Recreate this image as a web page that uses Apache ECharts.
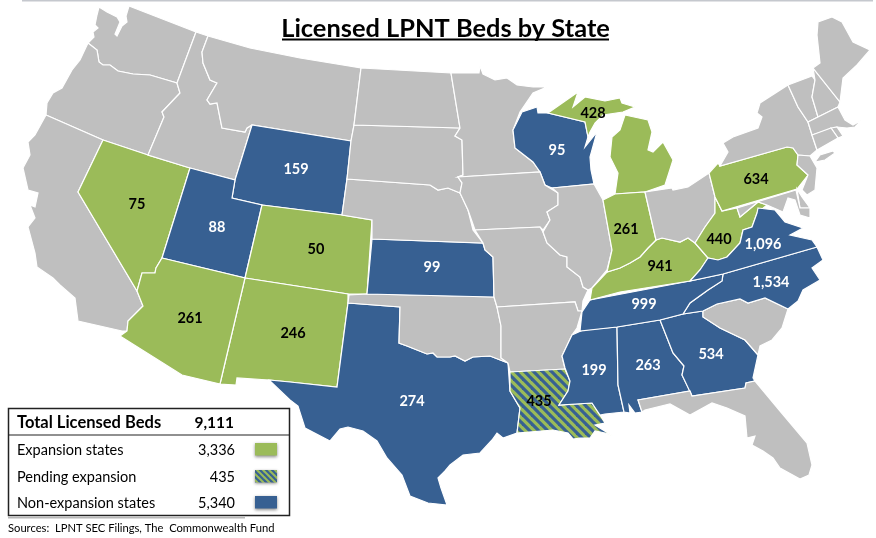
<!DOCTYPE html>
<html><head><meta charset="utf-8">
<style>html,body{margin:0;padding:0;background:#fff}#c{width:876px;height:538px}</style>
<script src="https://cdn.jsdelivr.net/npm/echarts@6/dist/echarts.min.js"></script>
</head><body><div id="c"></div>
<script>
// ---------- data ----------
const expansionStates = ['Nevada','Colorado','Arizona','New Mexico','Michigan','Indiana','Kentucky','West Virginia','Pennsylvania'];
const expansionBeds   = [75,50,261,246,428,261,941,440,634];
const pendingStates   = ['Louisiana'];
const pendingBeds     = [435];
const nonExpansionStates = ['Utah','Wyoming','Kansas','Wisconsin','Texas','Mississippi','Alabama','Georgia','Tennessee','North Carolina','Virginia'];
const nonExpansionBeds   = [88,159,99,95,274,199,263,534,999,1534,1096];
const tableTitle  = 'Total Licensed Beds';
const tableTotal  = '9,111';
const tableLabels = ['Expansion states','Pending expansion','Non-expansion states'];
const tableValues = ['3,336','435','5,340'];
const chartTitle  = 'Licensed LPNT Beds by State';
const sourceNote  = 'Sources:  LPNT SEC Filings, The  Commonwealth Fund';

// ---------- hand-traced map geometry (picture space), registered as the map ----------
const shapes = {
Washington:[[[99,7],[107,12],[117,17],[120,22],[115,34],[117,36],[122,26],[127,22],[126,16],[129,6],[196,32],[177,83],[150,75],[133,74],[118,71],[110,65],[103,65],[99,62],[97,50],[88,43],[94,37],[93,32],[98,28],[95,25],[97,15]]],
Oregon:[[[88,43],[97,50],[99,62],[103,65],[110,65],[118,71],[133,74],[150,75],[177,83],[180,93],[162,112],[164,117],[148,155],[103,140],[46,115],[47,103],[53,93],[62,88],[72,70],[80,60]]],
California:[[[46,115],[103,140],[78,192],[137,291],[143,306],[128,321],[127,331],[122,331],[78,321],[75,298],[60,285],[53,278],[37,267],[35,253],[28,227],[35,218],[30,205],[35,207],[38,193],[28,190],[23,168],[30,155],[28,142],[35,135]]],
Nevada:[[[103,140],[148,155],[190,168],[162,258],[156,268],[155,273],[142,273],[137,291],[78,192]]],
Idaho:[[[196,32],[208,36],[202,52],[203,63],[210,80],[217,83],[207,100],[210,104],[217,103],[222,128],[245,132],[247,128],[252,125],[235,180],[190,168],[148,155],[164,117],[162,112],[180,93],[177,83]]],
Montana:[[[208,36],[250,48],[300,58],[361,68],[354,125],[351,141],[252,125],[247,128],[245,132],[222,128],[217,103],[210,104],[207,100],[217,83],[210,80],[203,63],[202,52]]],
Wyoming:[[[252,125],[351,141],[347,179],[342,215],[262,205],[232,198],[235,180]]],
Utah:[[[190,168],[235,180],[232,198],[262,205],[245,278],[162,258]]],
Colorado:[[[262,205],[342,215],[372,220],[367,294],[348,294],[245,278]]],
'New Mexico':[[[245,278],[348,294],[348,303],[337,387],[290,382],[269,380],[237,378],[236,385],[220,384]]],
Arizona:[[[162,258],[245,278],[220,384],[182,375],[120,336],[127,331],[128,321],[143,306],[137,291],[142,273],[155,273],[156,268]]],
Texas:[[[348,303],[400,307],[399,343],[407,346],[412,348],[427,354],[433,353],[437,357],[450,357],[455,356],[465,361],[473,357],[490,356],[508,363],[510,391],[520,408],[517,433],[503,438],[497,433],[492,440],[480,453],[463,455],[450,465],[445,471],[438,478],[441,488],[447,505],[428,503],[410,496],[402,475],[387,458],[377,441],[363,431],[348,427],[340,429],[330,441],[305,428],[298,406],[290,400],[269,380],[290,382],[337,387]]],
Oklahoma:[[[349,295],[367,294],[494,297],[497,307],[501,326],[501,358],[508,363],[490,356],[473,357],[465,361],[455,356],[450,357],[437,357],[433,353],[427,354],[412,348],[407,346],[399,343],[400,307],[348,303]]],
Kansas:[[[372,239],[483,243],[485,250],[493,257],[494,297],[367,294]]],
Nebraska:[[[347,179],[430,185],[438,190],[448,188],[460,193],[468,210],[473,230],[483,243],[372,239],[372,220],[342,215]]],
'South Dakota':[[[354,125],[460,128],[455,136],[462,140],[463,175],[458,177],[462,183],[460,193],[448,188],[438,190],[430,185],[347,179],[351,141]]],
'North Dakota':[[[361,68],[451,73],[460,128],[354,125]]],
Minnesota:[[[451,73],[479,73],[480,66],[483,74],[495,80],[507,78],[517,85],[533,87],[547,87],[533,93],[520,112],[513,130],[515,148],[533,162],[540,172],[458,177],[463,175],[462,140],[455,136],[460,128]]],
Wisconsin:[[[522,112],[537,107],[538,113],[548,113],[585,122],[588,137],[585,147],[597,132],[590,157],[591,170],[594,184],[552,188],[545,185],[540,172],[533,162],[515,148],[513,130]]],
Michigan:[[[548,113],[578,92],[573,107],[585,97],[605,101],[620,98],[622,103],[635,107],[623,112],[603,115],[595,123],[590,132],[588,137],[585,122]],[[625,115],[648,120],[652,132],[648,150],[653,152],[663,142],[673,160],[665,185],[645,192],[615,194],[618,173],[610,157],[612,137],[620,130]]],
Iowa:[[[458,177],[540,172],[545,185],[558,193],[558,205],[547,212],[550,220],[543,230],[540,227],[475,230],[468,210],[460,193],[462,183]]],
Missouri:[[[475,230],[540,227],[543,232],[547,243],[560,255],[567,257],[567,267],[580,277],[583,287],[588,290],[583,301],[582,311],[578,311],[575,302],[497,307],[494,297],[493,257],[485,250],[483,243]]],
Illinois:[[[552,188],[594,184],[603,200],[612,250],[607,270],[592,288],[588,290],[583,287],[580,277],[567,267],[567,257],[560,255],[547,243],[543,232],[550,220],[547,212],[558,205],[558,193]]],
Arkansas:[[[497,307],[575,302],[578,311],[582,311],[577,328],[572,335],[562,356],[565,369],[510,372],[508,363],[501,358],[501,326]]],
Louisiana:[[[510,372],[565,369],[570,381],[568,391],[559,405],[592,403],[600,415],[605,423],[595,425],[613,436],[605,433],[595,431],[590,438],[580,438],[573,439],[568,433],[553,430],[517,433],[520,408],[510,391]]],
Mississippi:[[[583,330],[617,327],[618,385],[624,412],[605,414],[600,415],[592,403],[559,405],[568,391],[570,381],[565,368],[562,356],[572,335]]],
Alabama:[[[617,327],[660,320],[673,353],[684,366],[682,375],[690,391],[638,400],[642,412],[635,413],[629,405],[630,413],[624,412],[618,385]]],
Georgia:[[[660,320],[683,314],[703,311],[703,317],[720,328],[745,340],[758,355],[753,378],[755,381],[746,383],[745,388],[692,396],[682,375],[684,366],[673,353]]],
Florida:[[[638,400],[690,391],[692,396],[745,388],[746,383],[755,381],[780,411],[807,443],[812,465],[809,475],[800,479],[780,468],[773,458],[763,451],[752,445],[755,436],[747,438],[745,416],[727,408],[712,403],[690,415],[670,404],[645,410],[642,412]]],
'South Carolina':[[[703,311],[717,304],[740,299],[748,303],[765,298],[788,309],[782,328],[772,340],[760,346],[758,355],[745,340],[720,328],[703,317]]],
'North Carolina':[[[723,274],[817,247],[823,260],[812,268],[820,280],[803,290],[798,301],[788,309],[765,298],[748,303],[740,299],[717,304],[703,311],[683,314],[690,303],[708,290],[722,281]]],
Tennessee:[[[582,312],[590,300],[690,281],[723,274],[722,281],[708,290],[690,303],[683,314],[660,320],[617,327],[580,331]]],
Kentucky:[[[656,240],[662,238],[680,242],[688,238],[695,243],[708,258],[700,270],[690,281],[620,292],[590,300],[592,288],[607,272],[620,268],[630,263],[640,257],[648,248]]],
Indiana:[[[603,200],[615,194],[645,192],[656,240],[648,248],[640,257],[630,263],[620,268],[607,272],[612,250]]],
Ohio:[[[645,192],[672,188],[673,190],[688,187],[709,173],[715,197],[715,213],[705,227],[695,243],[688,238],[680,242],[662,238],[656,240]]],
'West Virginia':[[[695,243],[705,227],[715,213],[715,197],[722,211],[737,208],[740,217],[752,207],[758,202],[767,205],[757,213],[752,227],[743,230],[740,243],[727,257],[718,260],[708,258]]],
Virginia:[[[758,208],[775,210],[785,222],[803,228],[790,235],[812,240],[817,247],[723,274],[690,281],[700,270],[708,258],[718,260],[727,257],[740,243],[743,230],[752,227],[757,213]]],
Pennsylvania:[[[709,173],[718,163],[720,166],[787,147],[793,148],[798,155],[797,165],[808,175],[797,189],[722,211],[715,197]]],
'New York':[[[720,166],[728,152],[723,143],[733,137],[758,128],[762,117],[757,113],[760,103],[788,85],[798,107],[808,122],[812,135],[817,150],[810,156],[798,155],[793,148],[787,147]],[[815,162],[820,155],[833,151],[835,153],[825,160]]],
'New Jersey':[[[798,155],[810,156],[817,168],[815,190],[807,195],[802,190],[808,175],[797,165]]],
Delaware:[[[797,189],[802,197],[810,208],[800,208]]],
Maryland:[[[737,208],[796,190],[800,208],[810,208],[810,218],[800,215],[795,200],[788,198],[783,212],[767,205],[758,202],[752,207],[740,217]]],
Vermont:[[[788,85],[812,76],[815,80],[812,97],[818,117],[808,122],[798,107]]],
'New Hampshire':[[[813,68],[840,102],[838,107],[818,117],[812,97],[815,80]]],
Maine:[[[818,22],[832,17],[842,22],[853,42],[870,50],[857,65],[843,78],[840,102],[813,68],[820,63],[817,35]]],
Massachusetts:[[[808,122],[838,107],[845,120],[853,125],[862,120],[855,127],[847,128],[837,127],[812,135]]],
'Rhode Island':[[[831,128],[837,127],[843,136],[838,138]]],
Connecticut:[[[812,135],[831,128],[838,138],[817,150]]]
};
const labelAnchors = {Nevada:[137,204],Utah:[217,227],Wyoming:[296,169],Colorado:[316,249],Kansas:[432,267],Wisconsin:[557,150],Michigan:[593,113],Indiana:[626,229],Pennsylvania:[756,179],'West Virginia':[719,239],Virginia:[763,244],Kentucky:[660,266],'North Carolina':[771,282],Tennessee:[644,304],Georgia:[711,354],Alabama:[648,365],Mississippi:[594,370],Louisiana:[539,401],Texas:[412,401],Arizona:[190,318],'New Mexico':[293,333]};

const flip = p => [p[0], -p[1]];
const geoJson = {type:'FeatureCollection',features:Object.keys(shapes).map(name=>{
  const props = {name};
  if (labelAnchors[name]) props.cp = flip(labelAnchors[name]);
  return {type:'Feature',properties:props,geometry:{type:'MultiPolygon',coordinates:shapes[name].map(r=>[r.map(flip).concat([flip(r[0])])])}};
})};
echarts.registerMap('lower48', geoJson);

const GREEN='#9bbb59', BLUE='#376092', GRAY='#bfbfbf';
function stripes(size,lw){
  const c=document.createElement('canvas');c.width=c.height=size;
  const g=c.getContext('2d');g.fillStyle=GREEN;g.fillRect(0,0,size,size);
  g.strokeStyle=BLUE;g.lineWidth=lw;
  for(const d of [-size,0,size]){g.beginPath();g.moveTo(d-2,-2);g.lineTo(d+size+2,size+2);g.stroke();}
  return {image:c,repeat:'repeat'};
}
const fmt = v => v.toLocaleString('en-US');
const item = (name,value,color,textColor) => ({name,value,
  itemStyle:{areaColor:color},
  label:{show:true,color:textColor}});
const mapData = [
  ...expansionStates.map((n,i)=>item(n,expansionBeds[i],GREEN,'#000')),
  ...pendingStates.map((n,i)=>item(n,pendingBeds[i],stripes(9,3.2),'#000')),
  ...nonExpansionStates.map((n,i)=>item(n,nonExpansionBeds[i],BLUE,'#fff'))
];

const FONT='Lato';
const T=(x,y,text,o)=>({type:'text',x,y,silent:true,style:Object.assign({text,fontFamily:FONT,fontSize:14.5,fill:'#000',textVerticalAlign:'middle',verticalAlign:'middle',align:'left'},o||{})});
const rowYs=[450,477,503];
const swatchFill=[GREEN,stripes(6,2.2),BLUE];
const graphics=[
  {type:'rect',silent:true,shape:{x:22,y:0,width:851,height:1.5},style:{fill:'#c5c8ce'}},
  T(445.5,29,chartTitle,{fontSize:25.4,fontWeight:'bold',align:'center'}),
  {type:'rect',silent:true,shape:{x:282,y:38.5,width:327,height:2},style:{fill:'#000'}},
  {type:'rect',silent:true,z:5,shape:{x:8.5,y:408.5,width:281,height:107},style:{fill:'#fff',stroke:'#222',lineWidth:1.5}},
  {type:'line',silent:true,z:6,shape:{x1:8.5,y1:435,x2:289.5,y2:435},style:{stroke:'#222',lineWidth:1.2}},
  {type:'rect',silent:true,shape:{x:8,y:517,width:237,height:1.5},style:{fill:'#b8b8b8'}},
  Object.assign(T(17,423,tableTitle,{fontSize:16.5,fontWeight:'bold'}),{z:6}),
  Object.assign(T(234,423,tableTotal,{fontSize:15.5,fontWeight:'bold',align:'right'}),{z:6}),
  T(8,528,sourceNote,{fontSize:11.2})
];
tableLabels.forEach((l,i)=>{
  graphics.push(Object.assign(T(17,rowYs[i],l),{z:6}));
  graphics.push(Object.assign(T(235,rowYs[i],tableValues[i],{align:'right'}),{z:6}));
  graphics.push({type:'rect',silent:true,z:6,shape:{x:255,y:rowYs[i]-7,width:22,height:12.5},
    style:{fill:swatchFill[i],shadowBlur:3,shadowColor:'rgba(0,0,0,0.45)',shadowOffsetY:1}});
});

const chart=echarts.init(document.getElementById('c'),null,{renderer:'canvas'});
chart.setOption({
  animation:false,
  backgroundColor:'#fff',
  graphic:graphics,
  series:[{
    type:'map',map:'lower48',silent:true,roam:false,
    aspectScale:1,
    boundingCoords:[[0,0],[876,-538]],
    layoutCenter:[438,269],layoutSize:876,
    selectedMode:false,
    itemStyle:{areaColor:GRAY,borderColor:'#fff',borderWidth:1.2},
    emphasis:{disabled:true},
    label:{show:false,fontFamily:FONT,fontWeight:'bold',fontSize:14.5,formatter:p=>fmt(p.value)},
    data:mapData
  }]
});
</script></body></html>
